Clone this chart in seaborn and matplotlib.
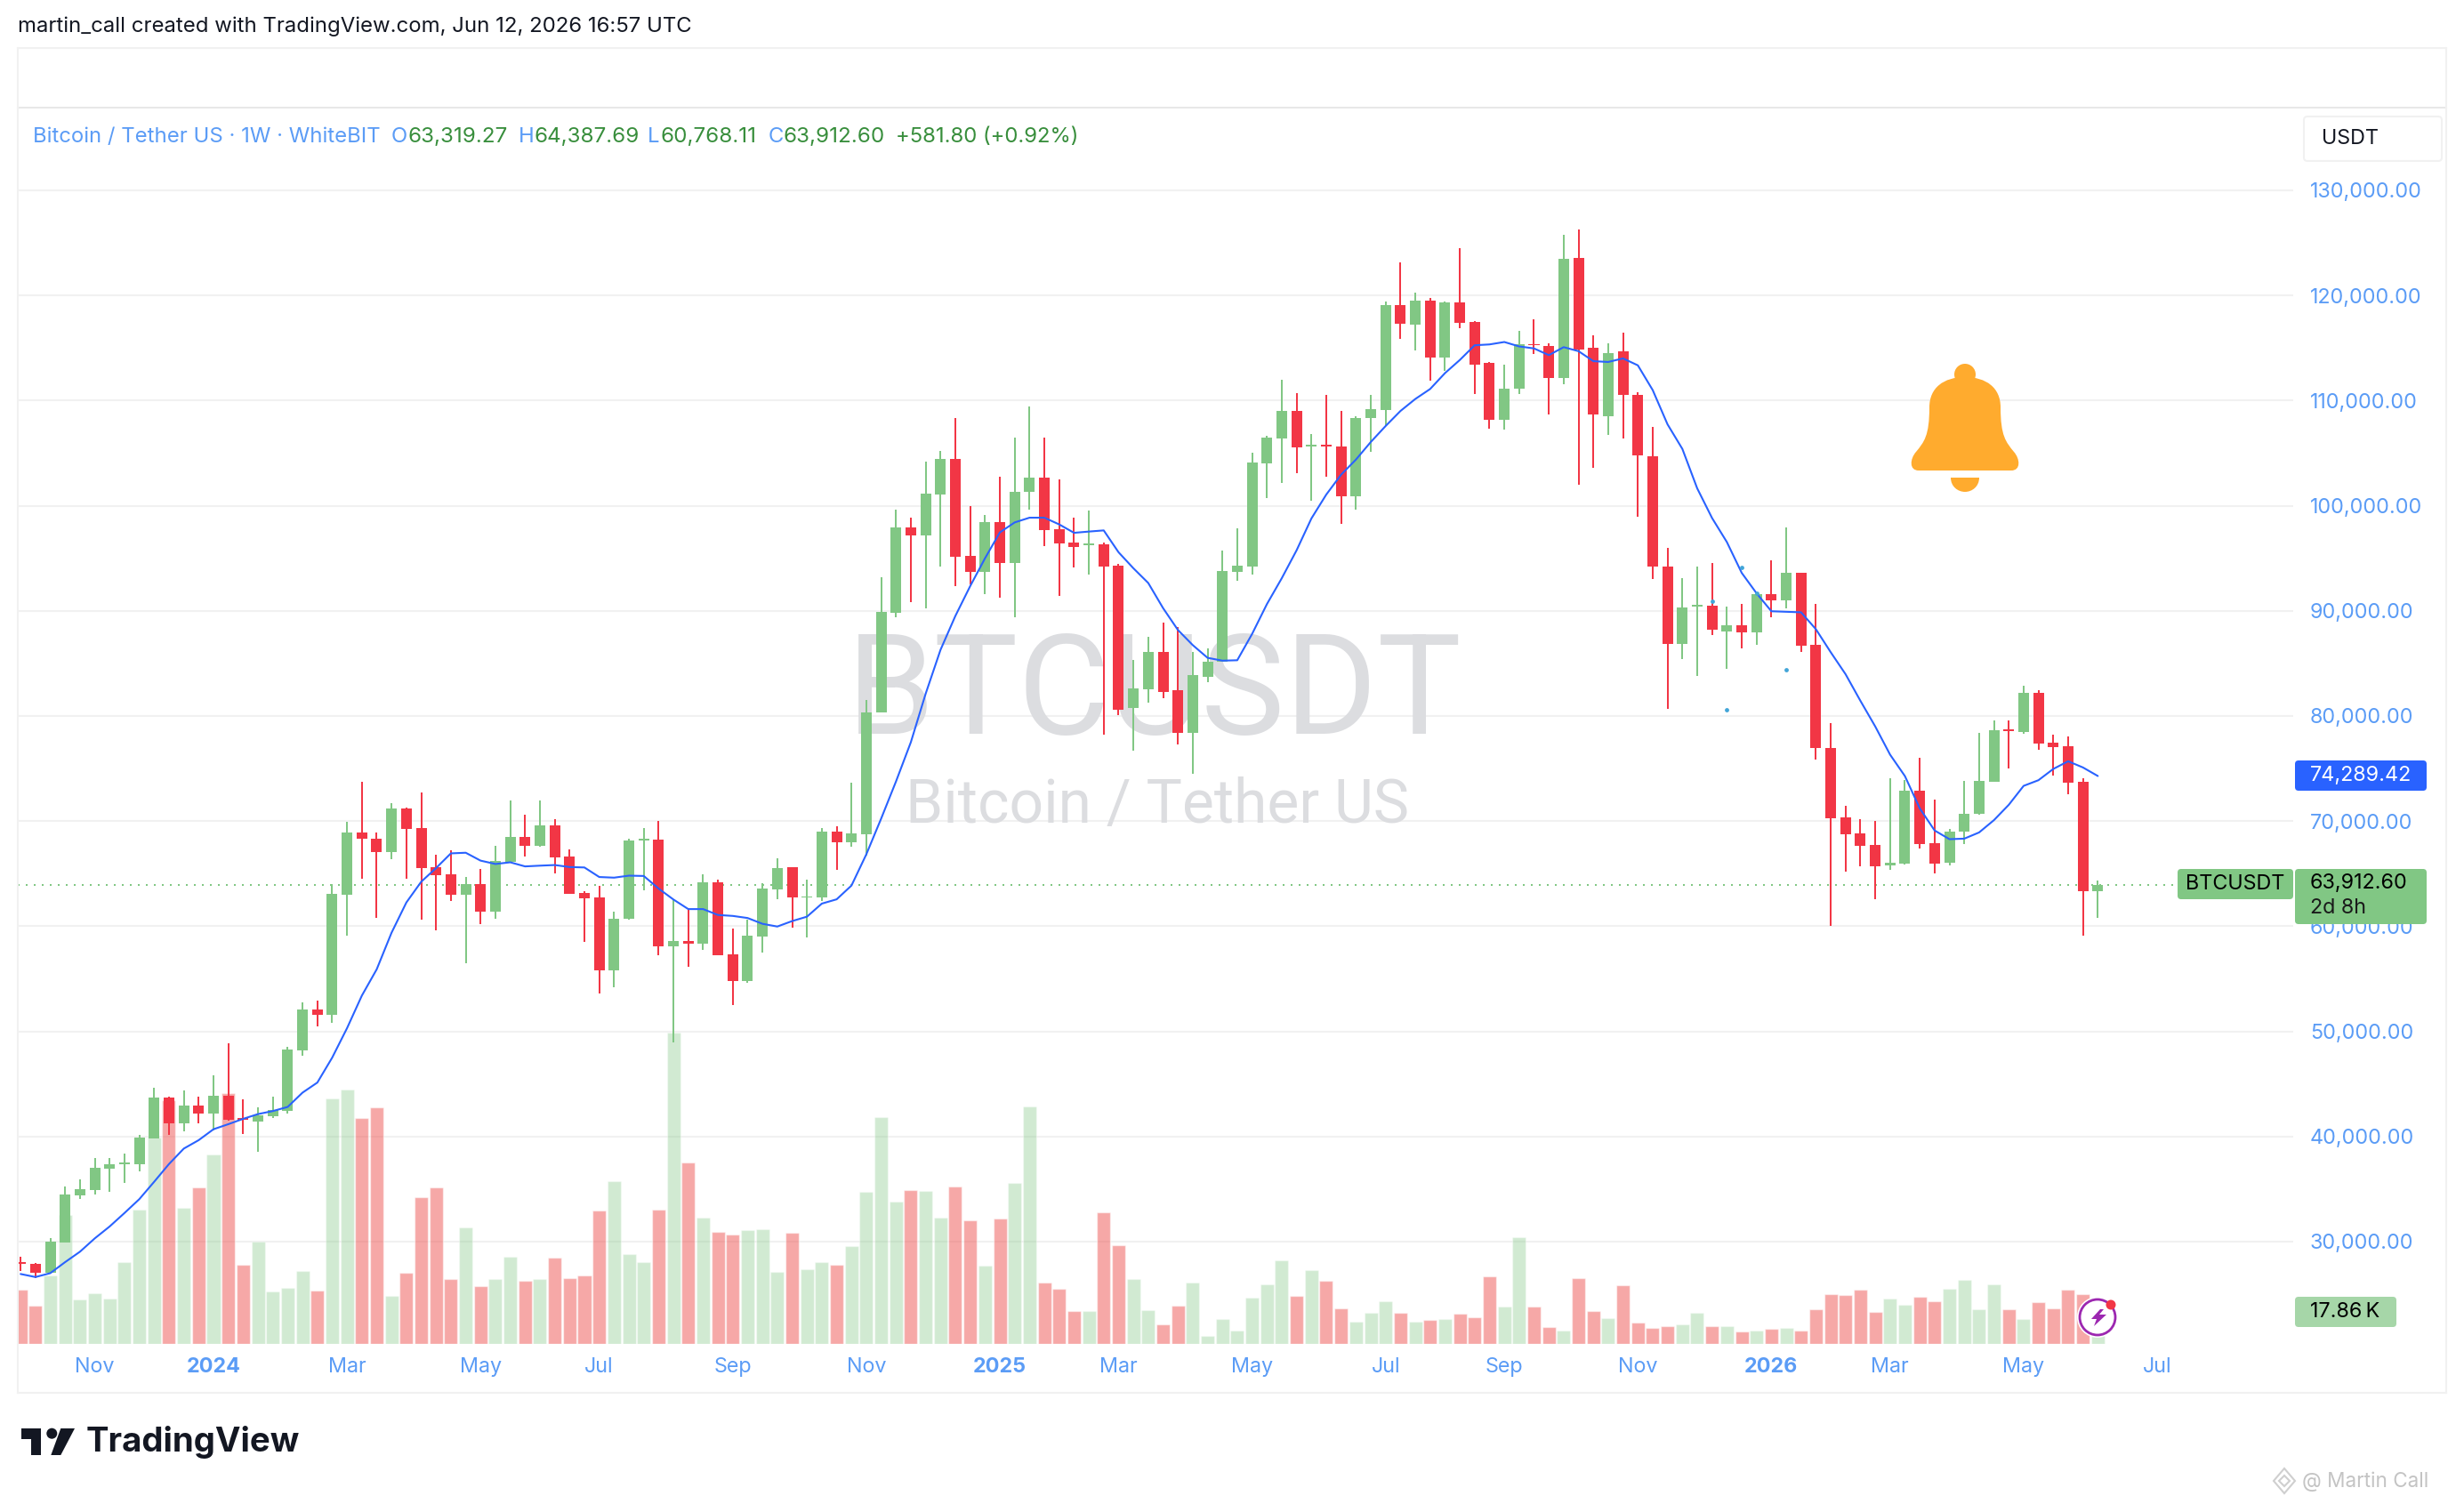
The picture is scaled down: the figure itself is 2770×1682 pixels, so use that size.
import numpy as np
import pandas as pd
import matplotlib.pyplot as plt
import seaborn as sns
from matplotlib.patches import Circle, FancyBboxPatch, PathPatch, Polygon
from matplotlib.path import Path
from matplotlib.lines import Line2D
from matplotlib.transforms import Affine2D

# weekly candles
opens = [28050, 27850, 27000, 29890, 34380, 34890, 36930, 37380, 37350, 39820,
         43720, 41260, 42960, 42190, 43890, 41770, 41430, 41940, 42450, 48200,
         52100, 51580, 62990, 68940, 68290, 67060, 71220, 69370, 65630, 64940,
         62990, 63970, 61370, 66110, 68450, 67640, 69590, 66630, 63150, 62730,
         55770, 60720, 68190, 68260, 58080, 58630, 58340, 64160, 57300, 54760,
         59020, 63480, 65630, 62730, 62760, 69010, 67970, 68770, 80300, 89770,
         97920, 97160, 101060, 104470, 95230, 93670, 98450, 94550, 101320, 102690,
         97760, 96470, 96250, 96320, 94280, 80720, 82570, 86130, 82420, 78410,
         83750, 85150, 93670, 94200, 104050, 106400, 109050, 105640, 105830, 105610,
         100910, 108330, 109130, 119050, 117200, 119470, 114130, 119320, 117460, 113560,
         108180, 111100, 115380, 115230, 112120, 123560, 115000, 108520, 114660, 110570,
         104720, 94250, 86840, 90400, 90450, 88060, 88650, 87920, 91570, 90980,
         93660, 86750, 76950, 70330, 68820, 67700, 65750, 65950, 72910, 67900,
         66000, 68970, 70670, 73740, 78760, 78510, 82210, 77490, 77150, 73740, 63319.27]
highs = [28530, 27930, 30310, 35230, 35910, 37950, 37950, 38370, 40150, 44650,
         43800, 44400, 43800, 45840, 48900, 43550, 42790, 43800, 48560, 52780,
         52940, 63970, 69920, 73760, 68940, 71710, 71280, 72750, 66800, 67220,
         64720, 65430, 67640, 71970, 70600, 71970, 70180, 67320, 63320, 63840,
         61370, 68290, 69370, 70050, 62540, 61690, 64940, 64390, 59740, 60650,
         64070, 66470, 65630, 64390, 69370, 69530, 73630, 81560, 93220, 99620,
         98860, 104170, 105230, 108370, 99960, 99090, 102760, 106520, 109480, 106520,
         102500, 98860, 99540, 96510, 94430, 85340, 87500, 88860, 88480, 86100,
         86440, 95760, 97880, 105040, 106670, 111970, 110720, 106820, 110530, 108980,
         108520, 110570, 119400, 123180, 120250, 119770, 119390, 124470, 117570, 113710,
         113450, 116670, 117760, 115450, 125760, 126290, 116180, 115410, 116440, 110790,
         107500, 96000, 93080, 94200, 94590, 90400, 90640, 91670, 94780, 97950,
         93660, 90640, 79340, 71450, 70180, 69990, 74080, 73890, 76030, 72030,
         69260, 73840, 78420, 79540, 79540, 82890, 82410, 78220, 78080, 74080, 64387.69]
lows = [27170, 26490, 27000, 29890, 34040, 34470, 34720, 35570, 36680, 39820,
        40150, 40490, 41260, 40580, 41510, 40240, 38540, 41770, 42190, 47700,
        50470, 50830, 59090, 64550, 60810, 66410, 64550, 60590, 59610, 62370,
        56520, 60160, 60720, 66110, 66670, 67540, 65040, 63090, 58470, 53590,
        54210, 60650, 63450, 57200, 48940, 56100, 57790, 57200, 52520, 54600,
        57460, 62600, 59840, 58900, 62370, 65340, 67520, 66700, 80300, 89430,
        90790, 90220, 94200, 92350, 92540, 91550, 91210, 89350, 99620, 96130,
        91400, 94130, 93480, 78260, 80070, 76670, 81250, 81670, 77270, 74540,
        83180, 85150, 92840, 93480, 100760, 102160, 103100, 100490, 102730, 98260,
        99620, 105150, 107580, 115830, 114810, 111930, 112800, 116860, 110640, 107350,
        107270, 110640, 114390, 108640, 111590, 102010, 103640, 106740, 106400, 98970,
        93030, 80700, 85380, 83820, 87670, 84500, 86450, 86790, 89380, 90200,
        86110, 75840, 60000, 65170, 65700, 62540, 65360, 65850, 67410, 65020,
        65750, 67800, 70570, 73740, 75000, 78270, 76810, 74320, 72570, 59130, 60768.11]
closes = [27880, 27000, 29970, 34470, 34980, 37010, 37350, 37520, 39900, 43720,
          41260, 42960, 42190, 43890, 41600, 41600, 42020, 42530, 48300, 52100,
          51580, 63060, 68940, 68290, 67060, 71220, 69270, 65530, 64880, 62990,
          63970, 61370, 66180, 68450, 67640, 69590, 66570, 63090, 62670, 55770,
          60750, 68160, 68290, 58080, 58630, 58340, 64160, 57200, 54760, 59060,
          63580, 65530, 62760, 62860, 69010, 67970, 68790, 80340, 89880, 97920,
          97160, 101170, 104470, 95150, 93670, 98450, 94550, 101320, 102690, 97690,
          96400, 96060, 96400, 94200, 80600, 82610, 86130, 82310, 78410, 83860,
          85190, 93790, 94280, 104130, 106510, 109050, 105570, 105830, 105640, 100910,
          108370, 109200, 119050, 117270, 119470, 114130, 119320, 117350, 113450, 108180,
          111170, 115340, 115260, 112120, 123480, 114890, 108640, 114540, 110530, 104770,
          94200, 86840, 90350, 90550, 88210, 88650, 87920, 91570, 90980, 93660,
          86650, 76910, 70280, 68720, 67650, 65700, 66000, 72910, 67800, 65950,
          69010, 70720, 73840, 78660, 78560, 82210, 77390, 77050, 73640, 63320, 63912.60]
# volume in thousands
volumes = [35.1, 24.6, 44.3, 83.7, 28.7, 32.8, 29.3, 53.2, 87.2, 133.6,
           158.0, 88.3, 101.2, 122.9, 162.6, 51.5, 66.1, 33.9, 36.3, 47.4,
           34.5, 159.1, 165.0, 146.3, 153.3, 31.0, 46.2, 94.8, 101.2, 42.1,
           75.5, 37.4, 42.1, 56.2, 41.0, 42.1, 55.6, 42.7, 44.5, 86.6,
           105.3, 57.9, 53.2, 87.2, 201.8, 117.6, 81.9, 72.5, 70.8, 73.7,
           74.3, 46.8, 72.0, 48.6, 53.2, 51.5, 63.2, 98.3, 146.8, 92.4,
           99.5, 98.9, 81.9, 101.8, 80.1, 50.9, 81.3, 104.1, 153.9, 39.8,
           35.7, 21.1, 21.1, 85.4, 63.8, 42.1, 21.6, 12.9, 25.0, 39.7,
           5.2, 16.3, 8.7, 29.8, 38.5, 54.4, 31.0, 47.9, 40.9, 22.8,
           14.5, 19.9, 27.4, 19.9, 14.5, 15.7, 16.3, 19.3, 17.5, 43.9,
           24.4, 68.9, 24.0, 11.1, 8.7, 42.7, 21.1, 16.9, 37.9, 13.9,
           10.5, 11.7, 12.9, 19.9, 11.7, 11.7, 8.1, 8.7, 9.9, 10.5,
           8.7, 22.2, 32.2, 31.6, 35.2, 20.5, 29.2, 25.6, 30.4, 27.4,
           35.5, 41.5, 22.2, 38.5, 22.2, 16.3, 26.8, 22.8, 35.2, 32.2, 17.86]
# moving average line
ma_line = [26920, 26630, 27000, 28050, 29040, 30310, 31440, 32720, 34040, 35690,
           37380, 38850, 39650, 40690, 41170, 41680, 42130, 42420, 42810, 44170,
           45130, 47500, 50300, 53400, 55900, 59380, 62260, 64230, 65530, 66930,
           66990, 66240, 65920, 66080, 65690, 65760, 65820, 65630, 65590, 64680,
           64620, 64810, 64780, 63580, 62540, 61630, 61630, 61070, 60980, 60780,
           60230, 59970, 60490, 60910, 62150, 62560, 63870, 66840, 70240, 73770,
           77500, 82120, 86290, 89510, 92350, 95000, 97460, 98410, 98860, 98860,
           98220, 97420, 97540, 97650, 95570, 94050, 92650, 90260, 88180, 86740,
           85530, 85260, 85300, 87800, 90640, 93100, 95760, 98790, 101060, 102950,
           104390, 106060, 107580, 109010, 110150, 111100, 112610, 113860, 115260, 115340,
           115570, 115150, 114960, 114320, 115080, 114700, 113750, 113670, 114010, 113350,
           111000, 107740, 105400, 101650, 98830, 96540, 93610, 91670, 89960, 89910,
           89860, 88250, 86060, 83970, 81440, 79000, 76320, 74280, 71210, 69110,
           68280, 68330, 68920, 70090, 71550, 73350, 73890, 74960, 75690, 75100, 74289.42]
# stray little blue dots near the line
dot_weeks = [114, 115, 116, 117, 119]
dot_prices = [90930, 80610, 94100, 91670, 84360]

price_ticks = [30000, 40000, 50000, 60000, 70000, 80000, 90000, 100000, 110000, 120000, 130000]
time_ticks = [5, 13, 22, 31, 39, 48, 57, 66, 74, 83, 92, 100, 109, 118, 126, 135, 144]
time_labels = ['Nov', '2024', 'Mar', 'May', 'Jul', 'Sep', 'Nov', '2025', 'Mar', 'May',
               'Jul', 'Sep', 'Nov', '2026', 'Mar', 'May', 'Jul']

UP = '#81c784'
DOWN = '#f23645'
BLUE = '#2962ff'
AXIS_BLUE = '#5b9cf6'
INK = '#131722'
LINE = '#f1f1f1'

W, H = 2770, 1682
sns.set_theme(style='white')
plt.rcParams['font.family'] = ['Inter', 'DejaVu Sans']

df = pd.DataFrame({'week': np.arange(len(opens)), 'open': opens, 'high': highs,
                   'low': lows, 'close': closes, 'volume': volumes, 'ma': ma_line})
df['up'] = df['close'] >= df['open']

fig = plt.figure(figsize=(W / 100, H / 100), dpi=100, facecolor='white')
# pixel coordinates for the furniture around the chart, origin top-left
px = Affine2D().scale(1, -1).translate(0, H)

rect = [20 / W, (H - 1511) / H, (2578 - 20) / W, (1511 - 122) / H]
xlim = (-0.19, 153.17)
ylim = (20270, 137780)

# bottom layer: grid and axis labels
ax_grid = fig.add_axes(rect, zorder=0)
ax_grid.set_xlim(xlim)
ax_grid.set_ylim(ylim)
ax_grid.yaxis.tick_right()
ax_grid.set_yticks(price_ticks)
ax_grid.set_yticklabels([f'{v:,.2f}' for v in price_ticks], fontsize=16.8, color=AXIS_BLUE)
ax_grid.set_xticks(time_ticks)
ax_grid.set_xticklabels(time_labels, fontsize=16.8, color=AXIS_BLUE)
for lab in ax_grid.get_xticklabels():
    if lab.get_text().startswith('20'):
        lab.set_fontweight('bold')
ax_grid.tick_params(axis='y', length=0, pad=13.5)
ax_grid.tick_params(axis='x', length=0, pad=11)
ax_grid.grid(axis='y', color=LINE, lw=1.5)
ax_grid.set_axisbelow(True)
sns.despine(ax=ax_grid, left=True, bottom=True, right=True, top=True)

# volume layer
ax_vol = fig.add_axes(rect, zorder=1)
ax_vol.patch.set_alpha(0)
sns.barplot(data=df[df['up']], x='week', y='volume', native_scale=True, color=UP, alpha=0.365,
            saturation=1, width=0.9, errorbar=None, ax=ax_vol)
sns.barplot(data=df[~df['up']], x='week', y='volume', native_scale=True, color='#ef5350', alpha=0.5,
            saturation=1, width=0.9, errorbar=None, ax=ax_vol)
ax_vol.set_xlim(xlim)
ax_vol.set_ylim(0, 800)
ax_vol.axis('off')

# candle layer
ax = fig.add_axes(rect, zorder=2)
ax.patch.set_alpha(0)
ax.set_xlim(xlim)
ax.set_ylim(ylim)
ax.axis('off')
ax.text(1298, 782, 'BTCUSDT', transform=px, family='Roboto', fontsize=114, color='#dcdde0',
        ha='center', va='center', zorder=1)
ax.text(1301, 906, 'Bitcoin / Tether US', transform=px, family='Roboto', fontsize=48.8, color='#dcdde0',
        ha='center', va='center', zorder=1)
colors = np.where(df['up'], UP, DOWN)
ax.vlines(df['week'], df['low'], df['high'], colors=colors, lw=1.44, zorder=2)
body_low = df[['open', 'close']].min(axis=1)
body_high = df[['open', 'close']].max(axis=1)
ax.bar(df['week'], (body_high - body_low).clip(lower=120), bottom=body_low, width=0.72,
       color=colors, lw=0, zorder=3)
sns.lineplot(data=df, x='week', y='ma', color=BLUE, lw=1.5, errorbar=None, ax=ax, zorder=4)
sns.scatterplot(x=dot_weeks, y=dot_prices, color='#42a5d8', s=12, lw=0, ax=ax, zorder=4)
ax.axhline(closes[-1], color=UP, lw=1.44, ls=(0, (1, 3.5)), zorder=1.5)
ax.set_xlabel('')
ax.set_ylabel('')

# frame lines
for x0, y0, x1, y1, col in [(20, 54, 2750, 54, LINE), (20, 121, 2750, 121, '#e8e8e8'),
                            (20, 1566, 2750, 1566, LINE), (20, 54, 20, 1566, LINE),
                            (2750, 54, 2750, 1566, LINE)]:
    fig.add_artist(Line2D([x0, x1], [y0, y1], transform=px, color=col, lw=1.5, zorder=3))


def box(x0, y0, x1, y1, fc, ec='none'):
    fig.add_artist(FancyBboxPatch((x0, y0), x1 - x0, y1 - y0, transform=px, fc=fc, ec=ec, lw=1.5,
                                  boxstyle='round,pad=0,rounding_size=4', zorder=5))


def label(x, y, s, color=INK, ha='left', size=16.8, **kw):
    fig.text(x, y, s, transform=px, color=color, ha=ha, va='center', fontsize=size, zorder=6, **kw)


# header text
label(20, 30, 'martin_call created with TradingView.com, Jun 12, 2026 16:57 UTC', size=17.25)
label(37, 154, 'Bitcoin / Tether US · 1W · WhiteBIT', color=AXIS_BLUE, size=17.2)
LEGEND_GREEN = '#388e3c'
for x_o, letter, x_v, val in [(440, 'O', 458, '63,319.27'), (583, 'H', 601, '64,387.69'),
                              (728, 'L', 743, '60,768.11'), (864, 'C', 881, '63,912.60')]:
    label(x_o, 154, letter, color=AXIS_BLUE, size=17.2)
    label(x_v, 154, val, color=LEGEND_GREEN, size=17.4)
label(1007, 154, '+581.80 (+0.92%)', color=LEGEND_GREEN, size=17.2)

box(2590, 131, 2745, 181, 'white', LINE)
label(2610, 156, 'USDT')

# price scale labels
box(2580, 855, 2728, 889, BLUE)
label(2597, 872, '74,289.42', color='white')
box(2580, 977, 2728, 1039, UP)
label(2597, 993, '63,912.60', color='black')
label(2597, 1021, '2d 8h', color='#1a1a1a')
box(2448, 977, 2578, 1011, UP)
label(2513, 994, 'BTCUSDT', color='black', ha='center')
box(2580, 1458, 2694, 1492, '#a6d6a8')
label(2597, 1475, '17.86\u2009K', color='black')

# alert bell
cx = 2209
bell = Path([(cx, 424), (cx + 24, 424), (cx + 40, 436), (cx + 40, 458),
             (cx + 40, 490), (cx + 46, 497), (cx + 55, 508),
             (cx + 62, 516), (cx + 63, 529), (cx + 52, 529),
             (cx - 52, 529),
             (cx - 63, 529), (cx - 62, 516), (cx - 55, 508),
             (cx - 46, 497), (cx - 40, 490), (cx - 40, 458),
             (cx - 40, 436), (cx - 24, 424), (cx, 424)],
            [Path.MOVETO] + [Path.CURVE4] * 9 + [Path.LINETO] + [Path.CURVE4] * 9)
clapper = Path([(cx - 16, 537), (cx - 16, 547), (cx - 8, 553), (cx, 553),
                (cx + 8, 553), (cx + 16, 547), (cx + 16, 537), (cx - 16, 537)],
               [Path.MOVETO] + [Path.CURVE4] * 6 + [Path.CLOSEPOLY])
BELL = '#ffab2e'
fig.add_artist(PathPatch(bell, transform=px, fc=BELL, ec='none', zorder=4))
fig.add_artist(PathPatch(clapper, transform=px, fc=BELL, ec='none', zorder=4))
fig.add_artist(Circle((cx, 421), 12, transform=px, fc=BELL, ec='none', zorder=4))

# news icon over the last volume bar
fig.add_artist(Circle((2358, 1481), 23, transform=px, fc='white', ec='none', zorder=4))
fig.add_artist(Circle((2358, 1481), 20, transform=px, fc='white', ec='#9c27b0', lw=2, zorder=4))
fig.add_artist(Polygon([(2361, 1472), (2351, 1483), (2357, 1483), (2354, 1491), (2368, 1478), (2360, 1478), (2365, 1472)],
                       transform=px, fc='#9c27b0', ec='none', zorder=4))
fig.add_artist(Circle((2373, 1467), 5.5, transform=px, fc=DOWN, ec='none', zorder=4))

# TradingView logo
for pts in [[(24, 1606), (46, 1606), (46, 1636), (35, 1636), (35, 1618), (24, 1618)],
            [(68.3, 1606), (84, 1606), (68.3, 1636), (57.3, 1636)]]:
    fig.add_artist(Polygon(pts, transform=px, fc=INK, ec='none', zorder=4))
fig.add_artist(Circle((58.3, 1611.7), 6, transform=px, fc=INK, ec='none', zorder=4))
label(97, 1621, 'TradingView', size=27.6, fontweight='bold')

# corner credit
fig.add_artist(Polygon([(2568, 1651), (2580, 1665), (2568, 1679), (2556, 1665)], transform=px,
                       fc='none', ec='#cfcfcf', lw=1.5, zorder=4))
fig.add_artist(Polygon([(2568, 1659), (2574, 1665), (2568, 1671), (2562, 1665)], transform=px,
                       fc='none', ec='#cfcfcf', lw=1.5, zorder=4))
label(2588, 1666, '@ Martin Call', color='#c4c4c4', size=16.2)

fig.savefig('out.png', dpi=100, facecolor='white')
